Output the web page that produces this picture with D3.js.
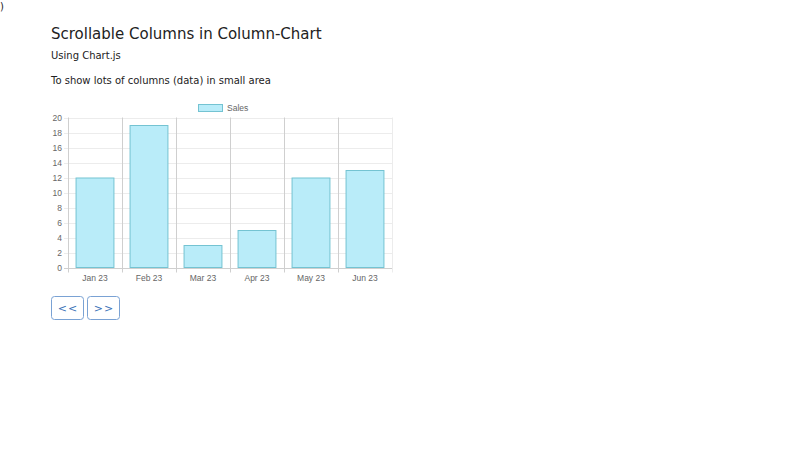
<!DOCTYPE html>
<html>
<head>
<meta charset="utf-8">
<script src="https://cdn.jsdelivr.net/npm/d3@7/dist/d3.min.js"></script>
<style>
html,body{margin:0;padding:0;background:#fff;}
svg{display:block;}
</style>
</head>
<body>
<svg id="page" width="800" height="450"></svg>
<script>
const categories = ["Jan 23","Feb 23","Mar 23","Apr 23","May 23","Jun 23"];
const salesValues = [12, 19, 3, 5, 12, 13];
const yTicks = [0,2,4,6,8,10,12,14,16,18,20];
const seriesName = "Sales";

(function(){
const svg = d3.select("#page");
const pageFont = "'DejaVu Sans', sans-serif";
const chartFont = "'Liberation Sans', Arial, sans-serif";

svg.append("text").attr("x",0).attr("y",10).attr("font-family",pageFont).attr("font-size",10).attr("fill","#222").text(")");
svg.append("text").attr("x",51).attr("y",39).attr("font-family",pageFont).attr("font-size",15).attr("fill","#222").text("Scrollable Columns in Column-Chart");
svg.append("text").attr("x",51).attr("y",59).attr("font-family",pageFont).attr("font-size",10).attr("fill","#222").text("Using Chart.js");
svg.append("text").attr("x",51).attr("y",84).attr("font-family",pageFont).attr("font-size",10).attr("fill","#222").text("To show lots of columns (data) in small area");

const pl = 68, pr = 392, pt = 117.5, pb = 267.5;
const xGrid = d3.scaleBand().domain(categories).range([pl, pr]).padding(0);
const x = d3.scaleBand().domain(categories).range([pl, pr]).paddingInner(0.28).paddingOuter(0.14);
const y = d3.scaleLinear().domain([0, 20]).range([pb, pt]);

const g = svg.append("g");

g.selectAll("line.hg").data(yTicks).join("line")
  .attr("x1", pl - 4).attr("x2", pr)
  .attr("y1", d => Math.round(y(d)) + 0.5).attr("y2", d => Math.round(y(d)) + 0.5)
  .attr("stroke", d => d === 0 ? "#cfcfcf" : "#ececec").attr("stroke-width", 1);

const bounds = categories.map(c => xGrid(c)).concat([pr]);
g.selectAll("line.vg").data(bounds).join("line")
  .attr("x1", d => Math.round(d) + 0.5).attr("x2", d => Math.round(d) + 0.5)
  .attr("y1", pt).attr("y2", pb + 5)
  .attr("stroke", (d,i) => i === bounds.length - 1 ? "#ececec" : "#cfcfcf").attr("stroke-width", 1);

g.selectAll("rect.bar").data(salesValues).join("rect")
  .attr("x", (d,i) => x(categories[i]) + 0.5)
  .attr("y", d => y(d) + 0.5)
  .attr("width", x.bandwidth() - 1)
  .attr("height", d => pb - y(d) - 0.5)
  .attr("fill", "#b9ecf9")
  .attr("stroke", "#74c3d2")
  .attr("stroke-width", 1);

g.selectAll("text.yl").data(yTicks).join("text")
  .attr("x", 62).attr("y", d => y(d) + 3)
  .attr("text-anchor", "end")
  .attr("font-family", chartFont).attr("font-size", 8.5).attr("fill", "#666")
  .text(d => d);

g.selectAll("text.xl").data(categories).join("text")
  .attr("x", d => xGrid(d) + xGrid.bandwidth()/2).attr("y", 281)
  .attr("text-anchor", "middle")
  .attr("font-family", chartFont).attr("font-size", 8.5).attr("fill", "#666")
  .text(d => d);

svg.append("rect").attr("x",198.5).attr("y",104.5).attr("width",24).attr("height",7)
  .attr("fill","#b9ecf9").attr("stroke","#74c3d2");
svg.append("text").attr("x",227).attr("y",110.5).attr("font-family",chartFont).attr("font-size",8.5).attr("fill","#666").text(seriesName);

const buttons = [{label:"<<", x:51.5},{label:">>", x:87.5}];
const bg = svg.selectAll("g.btn").data(buttons).join("g");
bg.append("rect").attr("x", d => d.x).attr("y", 296.5).attr("width", 32).attr("height", 23).attr("rx", 3)
  .attr("fill", "#fff").attr("stroke", "#7aa2d4").attr("stroke-width", 1);
bg.append("text").attr("x", d => d.x + 16.5).attr("y", 312).attr("text-anchor","middle")
  .attr("font-family", pageFont).attr("font-size", 11).attr("fill", "#3a72b8").attr("letter-spacing", 1)
  .text(d => d.label);
})();
</script>
</body>
</html>
